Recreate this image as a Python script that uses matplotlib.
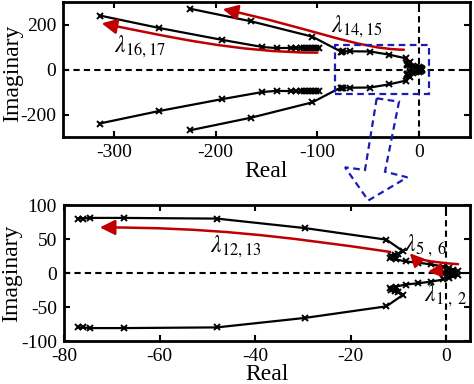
import numpy as np
import matplotlib
matplotlib.use('Agg')
import matplotlib.pyplot as plt
from matplotlib.patches import Rectangle, Polygon, FancyArrowPatch
from matplotlib.path import Path

plt.rcParams['font.family'] = ['Liberation Serif', 'DejaVu Serif']
plt.rcParams['mathtext.fontset'] = 'stix'
plt.rcParams['axes.unicode_minus'] = False

# ── Datos: rama superior (la inferior es conjugada) ──
# zona cercana al origen (panel inferior, también dentro del recuadro azul)
near_re = [-77, -76, -74.5, -67.5, -48, -29.5, -12.5, -9, -10, -10.8, -11.5, -11.2,
           -11.8, -10.5, -8.5, -5.8, -3.1, -0.6, 0.5, 1.5, 2.5, 1.0, -0.5, 0.5]
near_im = [80, 80, 81, 81, 80, 66, 49, 32, 28, 26, 25, 23,
           22, 20, 17, 15, 12.7, 9.5, 7, 5, 3, 1.5, 1, 0]

# rama lambda_14,15 (lejana), se une con la zona cercana
far_re = [-225, -165, -105]
far_im = [270, 214, 146]

# rama lambda_16,17
outer_re = [-98, -101, -104, -107, -110, -113, -116, -121, -126, -140, -154, -194, -256, -314]
outer_im = [97, 97, 97, 97, 97, 97, 97, 97, 96, 95, 100, 132, 185, 240]

RED = '#c00000'
BLUE = '#1c1cb4'
W, H = 474, 384

fig = plt.figure(figsize=(W / 100, H / 100), dpi=100)
ax1 = fig.add_axes([63 / W, 1 - 137 / H, (470 - 63) / W, 135 / H])
ax2 = fig.add_axes([64 / W, 1 - 341 / H, (470 - 64) / W, (341 - 205) / H])


def locus(ax, re, im):
    re = np.array(re, float)
    im = np.array(im, float)
    for s in (1, -1):
        ax.plot(re, s * im, color='black', lw=1.6, marker='x', ms=4, mew=1.4, zorder=3)


def red_arrow(ax, pts, codes, scale=13):
    p = Path(pts, codes)
    a = FancyArrowPatch(path=p, arrowstyle='-|>,head_length=0.7,head_width=0.35',
                        mutation_scale=scale, color=RED, lw=1.8, zorder=4)
    ax.add_patch(a)


def style(ax, xlim, ylim, xt, yt):
    ax.set_xlim(*xlim)
    ax.set_ylim(*ylim)
    ax.set_xticks(xt)
    ax.set_yticks(yt)
    ax.axhline(0, color='black', lw=1.5, ls=(0, (3, 2)), zorder=2)
    ax.axvline(0, color='black', lw=1.5, ls=(0, (3, 2)), zorder=2)
    for sp in ax.spines.values():
        sp.set_linewidth(2)
    ax.tick_params(direction='in', top=True, right=True, length=4, width=1.5,
                   labelsize=14, pad=5)
    ax.set_xlabel('Real', fontsize=17)
    ax.set_ylabel('Imaginary', fontsize=17)


# ── Panel superior ──
style(ax1, (-350, 50), (-300, 300), [-300, -200, -100, 0], [-200, 0, 200])
locus(ax1, outer_re, outer_im)
locus(ax1, far_re + near_re, far_im + near_im)
ax1.add_patch(Rectangle((-83, -107), 93, 214, fill=False, ec=BLUE, lw=1.6,
                        ls=(0, (3, 2)), zorder=5))
C4 = [Path.MOVETO, Path.CURVE4, Path.CURVE4, Path.CURVE4]
red_arrow(ax1, [(-100, 75), (-180, 75), (-250, 150), (-312, 205)], C4)
red_arrow(ax1, [(-15, 88), (-60, 90), (-110, 190), (-193, 268)], C4)
ax1.text(-300, 100, r'$\lambda_{16,17}$', fontsize=17, va='center', ha='left')
ax1.text(-87, 190, r'$\lambda_{14,15}$', fontsize=17, va='center', ha='left')
ax1.xaxis.set_label_coords(0.5, -0.18)
ax1.yaxis.set_label_coords(-0.098, 0.47)

# ── Panel inferior ──
style(ax2, (-80, 5), (-100, 100), [-80, -60, -40, -20, 0], [-100, -50, 0, 50, 100])
locus(ax2, near_re, near_im)
red_arrow(ax2, [(-11.7, 31), (-35, 55), (-50, 67), (-72.5, 67)], C4)
red_arrow(ax2, [(2.5, 13), (-6, 17), (-7.6, 29)], [Path.MOVETO, Path.CURVE3, Path.CURVE3], 11)
red_arrow(ax2, [(-0.8, 4), (-3.8, 2)], [Path.MOVETO, Path.LINETO], 11)
ax2.text(-49.5, 38, r'$\lambda_{12,13}$', fontsize=17, va='center', ha='left')
ax2.text(-8.8, 40, r'$\lambda_{5\ ,\ 6}$', fontsize=17, va='center', ha='left')
ax2.text(-4.6, -33, r'$\lambda_{1\ ,\ 2}$', fontsize=17, va='center', ha='left')
ax2.xaxis.set_label_coords(0.5, -0.17)
ax2.yaxis.set_label_coords(-0.102, 0.5)

# ── Flecha azul de zoom (coordenadas de figura en px) ──
arrow_px = [(376.7, 98.3), (399, 101.7), (385, 171.7), (407.3, 177.3),
            (368.3, 200.5), (345, 167.3), (365, 170)]
arrow_fig = [(x / W, 1 - y / H) for x, y in arrow_px]
fig.patches.append(Polygon(arrow_fig, closed=True, fill=False, ec=BLUE, lw=1.6,
                           ls=(0, (3, 2)), transform=fig.transFigure, zorder=10))

fig.savefig('out.png', dpi=100)
